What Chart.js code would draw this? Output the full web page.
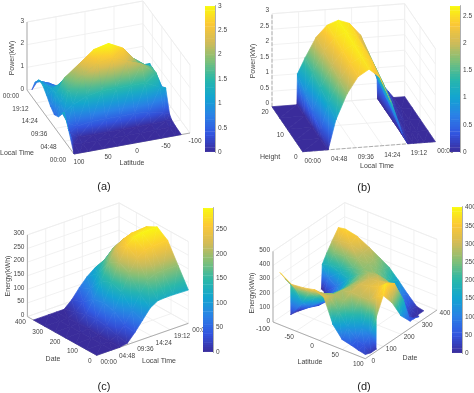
<!DOCTYPE html>
<html lang="en">
<head>
<meta charset="UTF-8">
<title>Power and energy surfaces</title>
<script src="https://cdn.jsdelivr.net/npm/chart.js"></script>
<style>
  body { margin: 0; background: #fff; }
  canvas { position: absolute; }
</style>
</head>
<body>
<canvas id="panelA" width="237" height="196" style="left:0;top:0"></canvas>
<canvas id="panelB" width="237" height="196" style="left:237px;top:0"></canvas>
<canvas id="panelC" width="237" height="197" style="left:0;top:196px"></canvas>
<canvas id="panelD" width="237" height="197" style="left:237px;top:196px"></canvas>
<canvas id="barA" width="34" height="160" style="left:205px;top:-1px"></canvas>
<canvas id="barB" width="34" height="160" style="left:450px;top:-1px"></canvas>
<canvas id="barC" width="34" height="158" style="left:203px;top:201px"></canvas>
<canvas id="barD" width="34" height="160" style="left:452px;top:200px"></canvas>

<script>
    const timeTicks = ['00:00', '04:48', '09:36', '14:24', '19:12', '00:00'];
    const timeTickHours = [0, 4.8, 9.6, 14.4, 19.2, 24];

    // (a) power vs latitude and local time
    const latA = [100, 90, 75, 50, 25, 0, -25, -50, -75, -85];
    const hoursA = [0, 3, 5, 6, 8, 10, 12, 14, 16, 18, 20, 21.5];
    const powerA = [
        [0, .8, 1.25, 1.1, .7, .55, .7, .95, 1.15, 1.15, .8, .3],
        [0, .05, .3, .6, .85, 1, 1.2, 1.15, 1.05, .95, .8, .65],
        [0, 0, .04, .4, 1.1, 1.65, 1.85, 1.4, 1, .75, .65, .5],
        [0, 0, .03, .5, 1.4, 2.1, 2.35, 1.85, 1.3, .7, .3, .1],
        [0, 0, .02, .5, 1.5, 2.5, 2.85, 2.25, 1.5, .6, .1, 0],
        [0, 0, .02, .5, 1.5, 2.6, 3, 2.5, 1.7, .7, .1, 0],
        [0, 0, .02, .5, 1.5, 2.35, 2.68, 2.3, 1.6, .7, .1, 0],
        [0, 0, .03, .45, 1.5, 2.1, 1.93, 1.87, 1.4, .8, .3, .1],
        [0, .02, .05, .3, 1.2, 1.6, 1.6, 1.4, 1.25, 1.1, .9, .7],
        [0, .02, .08, .2, 1.12, .95, .72, 1.15, 1.25, .9, .7, .4]
    ];

    // (b) power vs height and local time
    const heightB = [0, 5, 10, 15, 20];
    const hoursB = [0, 4.5, 4.6, 6, 8, 10, 12, 14, 16, 18, 19, 19.1, 19.2, 20, 21, 22, 24];
    const powerB = [
        [0, 0, 0, .95, 1.75, 2.28, 2.5, 2.2, 1.4, .35, 0, 0, 0, 0, 0, 0, 0],
        [0, 0, .25, 1.1, 1.85, 2.35, 2.55, 2.35, 1.6, .55, .16, 0, .14, 0, 0, 0, 0],
        [0, 0, .5, 1.25, 1.95, 2.4, 2.58, 2.4, 1.75, .72, .32, 0, .3, .08, 0, 0, 0],
        [0, 0, .75, 1.4, 2.05, 2.45, 2.6, 2.45, 1.92, .9, .48, 0, .46, .25, .08, 0, 0],
        [0, 0, 1, 1.5, 2.14, 2.5, 2.63, 2.5, 2.1, 1.1, .65, 0, .63, .45, .22, 0, 0]
    ];

    // (c) energy vs date and local time
    const dateC = [0, 60, 120, 180, 240, 300, 365];
    const hoursC = [0, 4, 6, 8, 10, 12, 14, 16, 18, 20, 24];
    const energyC = [
        [0, 0, 0, 5, 35, 70, 105, 122, 124, 124, 122],
        [0, 0, 0, 12, 40, 85, 135, 175, 190, 192, 192],
        [0, 0, 2, 25, 70, 130, 190, 235, 255, 260, 262],
        [0, 0, 5, 30, 80, 145, 210, 260, 282, 288, 290],
        [0, 0, 3, 25, 72, 130, 185, 230, 255, 265, 270],
        [0, 0, 0, 12, 40, 80, 125, 170, 200, 215, 225],
        [0, 0, 0, 0, 25, 60, 90, 112, 122, 135, 170]
    ];

    // (d) energy vs latitude and date, null where the picture has no surface
    const latD = [100, 85, 70, 50, 30, 10, -10, -33, -60, -85, -100];
    const dateD = [0, 30, 60, 61, 100, 150, 200, 250, 270, 275, 300, 330, 365];
    const energyD = [
        [30, 15, 15, 240, 360, 265, 130, 50, 50, 50, 40, null, null],
        [40, 50, 90, 90, 330, 380, 340, 180, 50, 30, 10, 5, 5],
        [55, 70, 130, 130, 290, 340, 325, 240, 130, 100, 50, 25, 15],
        [70, 130, 200, 200, 290, 320, 315, 270, 210, 190, 130, 100, 78],
        [150, 220, 265, 265, 295, 305, 300, 285, 250, 240, 215, 180, 150],
        [320, 300, 285, 285, 280, 270, 270, 275, 265, 262, 250, 235, 215],
        [345, 300, 265, 265, 230, 215, 220, 240, 255, 258, 270, 272, 255],
        [328, 270, 215, 215, 150, 120, 130, 180, 220, 235, 275, 290, 300],
        [318, 250, 137, 137, 70, 40, 40, 90, 170, 195, 260, 320, 345],
        [370, 300, 233, 20, 10, 5, 5, 15, 100, 190, 250, 310, 363],
        [null, null, null, null, null, null, null, null, 0, 172, 230, 290, 354]
    ];

    // colorbar ticks
    const barTicksA = [0, .5, 1, 1.5, 2, 2.5, 3];
    const barTicksB = [0, .5, 1, 1.5, 2, 2.5];
    const barTicksC = [0, 50, 100, 150, 200, 250];
    const barTicksD = [0, 50, 100, 150, 200, 250, 300, 350, 400];

    const parula = ['#3a2c9b', '#3255e0', '#2a82e6', '#12a5d0', '#2bb8a8', '#80bf78', '#d2bb58', '#fcc835', '#f9fb0e'];
    const font = '"Liberation Sans", Arial, sans-serif';
    const textColor = '#444';
    const gap = { x: NaN, y: NaN };

    function hexRgb(h) {
        return [1, 3, 5].map(i => parseInt(h.substr(i, 2), 16));
    }

    function parulaColor(f) {
        f = Math.max(0, Math.min(1, f)) * (parula.length - 1);
        const i = Math.min(Math.floor(f), parula.length - 2);
        const c0 = hexRgb(parula[i]), c1 = hexRgb(parula[i + 1]);
        const c = c0.map((v, k) => Math.round(v + (c1[k] - v) * (f - i)));
        return 'rgb(' + c.join(',') + ')';
    }

    function surfacePlugin(p) {
        return {
            id: 'surface',
            afterDatasetsDraw(chart) {
                const ctx = chart.ctx;
                const pts = chart.getDatasetMeta(chart.data.datasets.length - 1).data;
                const nr = p.rows.length, nc = p.cols.length;
                const at = (r, c) => ({ x: pts[r * nc + c].x, y: pts[r * nc + c].y, z: p.values[r][c] });
                const cells = [];
                for (let r = 0; r < nr - 1; r++) {
                    for (let c = 0; c < nc - 1; c++) {
                        const depth = project(p, (p.rows[r] + p.rows[r + 1]) / 2, (p.cols[c] + p.cols[c + 1]) / 2, p.zRange[0]).y;
                        cells.push({ r, c, depth });
                    }
                }
                cells.sort((a, b) => a.depth - b.depth);
                ctx.save();
                cells.forEach(({ r, c }) => {
                    const a = at(r, c), b = at(r, c + 1), d = at(r + 1, c), e = at(r + 1, c + 1);
                    triangle(ctx, p, a, b, e);
                    triangle(ctx, p, a, e, d);
                });
                ctx.restore();

                // tick labels and titles
                ctx.save();
                ctx.fillStyle = textColor;
                ctx.textBaseline = 'middle';
                ctx.font = '6.5px ' + font;
                ctx.textAlign = 'center';
                const sx = chart.scales.x, sy = chart.scales.y;
                p.rowTicks.forEach((v, i) => {
                    const q = project(p, v, p.rowFloorAt, p.zRange[0]);
                    ctx.fillText(p.rowLabels[i], sx.getPixelForValue(q.x) + p.rowOffset[0], sy.getPixelForValue(q.y) + p.rowOffset[1]);
                });
                p.colTicks.forEach((v, i) => {
                    const q = project(p, p.colFloorAt, v, p.zRange[0]);
                    ctx.fillText(p.colLabels[i], sx.getPixelForValue(q.x) + p.colOffset[0], sy.getPixelForValue(q.y) + p.colOffset[1]);
                });
                ctx.textAlign = 'right';
                p.zTicks.forEach(v => {
                    const f = (v - p.zRange[0]) / (p.zRange[1] - p.zRange[0]);
                    ctx.fillText(String(v), sx.getPixelForValue(p.zAxisX) - 3, sy.getPixelForValue(p.zAxisY + f * p.up) + p.zLabelDy);
                });
                ctx.textAlign = 'center';
                ctx.font = '7px ' + font;
                p.titles.forEach(t => {
                    ctx.save();
                    ctx.translate(t[1], t[2]);
                    if (t[3]) ctx.rotate(-Math.PI / 2);
                    ctx.fillText(t[0], 0, 0);
                    ctx.restore();
                });
                ctx.font = '11px ' + font;
                ctx.fillStyle = '#222';
                ctx.fillText(p.caption[0], p.caption[1], p.caption[2]);
                ctx.restore();
            }
        };
    }

    // gouraud style fill of one triangle, colour follows z
    function triangle(ctx, p, a, b, c) {
        if (a.z === null || b.z === null || c.z === null) return;
        const dx1 = b.x - a.x, dy1 = b.y - a.y, dx2 = c.x - a.x, dy2 = c.y - a.y;
        const dz1 = b.z - a.z, dz2 = c.z - a.z;
        const det = dx1 * dy2 - dx2 * dy1;
        const lo = Math.min(a.z, b.z, c.z), hi = Math.max(a.z, b.z, c.z);
        let fill = parulaColor((a.z + b.z + c.z) / 3 / p.colorMax);
        if (Math.abs(det) > 0.01 && (hi - lo) / p.colorMax > 0.03) {
            const gx = (dz1 * dy2 - dz2 * dy1) / det, gy = (dz2 * dx1 - dz1 * dx2) / det;
            const g2 = gx * gx + gy * gy;
            const grad = ctx.createLinearGradient(
                a.x + gx * (lo - a.z) / g2, a.y + gy * (lo - a.z) / g2,
                a.x + gx * (hi - a.z) / g2, a.y + gy * (hi - a.z) / g2);
            const n = Math.ceil((hi - lo) / p.colorMax * 8) + 1;
            for (let i = 0; i <= n; i++) grad.addColorStop(i / n, parulaColor((lo + (hi - lo) * i / n) / p.colorMax));
            fill = grad;
        }
        ctx.beginPath();
        ctx.moveTo(a.x, a.y);
        ctx.lineTo(b.x, b.y);
        ctx.lineTo(c.x, c.y);
        ctx.closePath();
        ctx.fillStyle = fill;
        ctx.strokeStyle = fill;
        ctx.lineWidth = 0.7;
        ctx.fill();
        ctx.stroke();
    }

    // parallel projection of row value, column value and z into the panel plane
    function project(p, rv, cv, z) {
        const fr = (rv - p.rowRange[0]) / (p.rowRange[1] - p.rowRange[0]);
        const fc = (cv - p.colRange[0]) / (p.colRange[1] - p.colRange[0]);
        const fz = (z - p.zRange[0]) / (p.zRange[1] - p.zRange[0]);
        return {
            x: p.origin[0] + fr * p.rowVec[0] + fc * p.colVec[0],
            y: p.origin[1] + fr * p.rowVec[1] + fc * p.colVec[1] + fz * p.up
        };
    }

    function boxLines(p) {
        const [r0, r1] = p.rowRange, [c0, c1] = p.colRange, [z0, z1] = p.zRange;
        const grid = [], axes = [];
        // the two back walls sit on the far row edge and the far column edge
        p.zTicks.forEach(v => {
            grid.push(project(p, r1, c0, v), project(p, r1, c1, v), project(p, r0, c1, v), gap);
        });
        p.rowTicks.forEach(v => {
            grid.push(project(p, v, c0, z0), project(p, v, c1, z0), project(p, v, c1, z1), gap);
        });
        p.colTicks.forEach(v => {
            grid.push(project(p, r0, v, z0), project(p, r1, v, z0), project(p, r1, v, z1), gap);
        });
        grid.push(project(p, r1, c0, z1), project(p, r1, c1, z1), project(p, r0, c1, z1), gap);
        axes.push(project(p, r1, c0, z0), project(p, r0, c0, z0), project(p, r0, c1, z0), gap);
        const left = project(p, r1, c0, z0).x < project(p, r0, c1, z0).x ? [r1, c0] : [r0, c1];
        axes.push(project(p, left[0], left[1], z0), project(p, left[0], left[1], z1));
        return { grid, axes };
    }

    function drawPanel(id, p) {
        const canvas = document.getElementById(id);
        const lines = boxLines(p);
        const vertices = [];
        p.rows.forEach((rv, r) => p.cols.forEach((cv, c) => {
            const z = p.values[r][c];
            vertices.push(project(p, rv, cv, z === null ? p.zRange[0] : z));
        }));
        new Chart(canvas, {
            type: 'scatter',
            data: {
                datasets: [
                    { data: lines.axes, showLine: true, borderColor: '#9a9a9a', borderWidth: 0.8, pointRadius: 0, borderDash: p.axisDash || [] },
                    { data: lines.grid, showLine: true, borderColor: '#eeeeee', borderWidth: 0.8, pointRadius: 0 },
                    { data: vertices, pointRadius: 0, showLine: false }
                ]
            },
            options: {
                responsive: false,
                animation: false,
                layout: { padding: 0 },
                plugins: { legend: { display: false }, tooltip: { enabled: false } },
                scales: {
                    x: { type: 'linear', display: false, min: 0, max: canvas.width },
                    y: { type: 'linear', display: false, min: 0, max: canvas.height, reverse: true }
                }
            },
            plugins: [surfacePlugin(p)]
        });
    }

    function drawColorbar(id, top, ticks) {
        const datasets = [];
        const n = 64;
        for (let i = 0; i < n; i++) {
            const col = parulaColor((i + 0.5) / n);
            datasets.push({
                data: [[top * i / n, top * (i + 1) / n]],
                backgroundColor: col,
                borderColor: col,
                borderWidth: 0.6,
                borderSkipped: false,
                grouped: false,
                barPercentage: 1,
                categoryPercentage: 1
            });
        }
        new Chart(document.getElementById(id), {
            type: 'bar',
            data: { labels: [''], datasets },
            options: {
                responsive: false,
                animation: false,
                layout: { padding: { top: 4, bottom: 4 } },
                plugins: { legend: { display: false }, tooltip: { enabled: false } },
                scales: {
                    x: { display: false },
                    y: {
                        position: 'right',
                        min: 0,
                        max: top,
                        afterBuildTicks: s => { s.ticks = ticks.map(v => ({ value: v })); },
                        afterFit: s => { s.width = 24; },
                        grid: { display: false, drawTicks: false },
                        border: { color: '#777', width: 0.6 },
                        ticks: { color: textColor, font: { size: 6.5, family: font }, padding: 3, callback: v => String(v) }
                    }
                }
            }
        });
    }

    drawPanel('panelA', {
        rows: latA, cols: hoursA, values: powerA, colorMax: 3,
        origin: [74, 154], rowVec: [116, -21], colVec: [-47, -64], up: -68,
        rowRange: [100, -100], colRange: [0, 24], zRange: [0, 3],
        rowTicks: [100, 50, 0, -50, -100], rowLabels: ['100', '50', '0', '-50', '-100'], rowOffset: [5, 8], rowFloorAt: 0,
        colTicks: timeTickHours, colLabels: timeTicks, colOffset: [-16, 6], colFloorAt: 100,
        zTicks: [0, 1, 2, 3], zAxisX: 27, zAxisY: 90, zLabelDy: -1,
        titles: [['Power(kW)', 12, 58, true], ['Local Time', 17, 153], ['Latitude', 132, 163]],
        caption: ['(a)', 104, 187]
    });
    drawPanel('panelB', {
        rows: heightB, cols: hoursB, values: powerB, colorMax: 2.68,
        origin: [65.7, 151.7], rowVec: [-30.7, -45], colVec: [132.7, -10], up: -93,
        rowRange: [0, 20], colRange: [0, 24], zRange: [0, 3],
        rowTicks: [0, 10, 20], rowLabels: ['0', '10', '20'], rowOffset: [-7, 6], rowFloorAt: 0,
        colTicks: timeTickHours, colLabels: timeTicks, colOffset: [10, 10], colFloorAt: 0,
        zTicks: [0, .5, 1, 1.5, 2, 2.5, 3], zAxisX: 35, zAxisY: 106.7, zLabelDy: -3,
        titles: [['Power(kW)', 16.5, 61, true], ['Height', 33, 157], ['Local Time', 140, 166]],
        caption: ['(b)', 127, 188], axisDash: [4, 1.5]
    });
    drawPanel('panelC', {
        rows: dateC, cols: hoursC, values: energyC, colorMax: 294,
        origin: [96.7, 159.3], rowVec: [-69.3, -38.7], colVec: [91.7, -32], up: -81.7,
        rowRange: [0, 400], colRange: [0, 24], zRange: [0, 300],
        rowTicks: [0, 100, 200, 300, 400], rowLabels: ['0', '100', '200', '300', '400'], rowOffset: [-7, 6], rowFloorAt: 0,
        colTicks: timeTickHours, colLabels: timeTicks, colOffset: [12, 7], colFloorAt: 0,
        zTicks: [0, 50, 100, 150, 200, 250, 300], zAxisX: 27.4, zAxisY: 120.6, zLabelDy: -1.5,
        titles: [['Energy(kWh)', 8, 80, true], ['Date', 53, 163], ['Local Time', 159, 165]],
        caption: ['(c)', 104, 191]
    });
    drawPanel('panelD', {
        rows: latD, cols: dateD, values: energyD, colorMax: 402,
        origin: [128.3, 162.7], rowVec: [-92.3, -36.7], colVec: [71.7, -48.7], up: -70.7,
        rowRange: [100, -100], colRange: [0, 400], zRange: [0, 500],
        rowTicks: [100, 50, 0, -50], rowLabels: ['100', '50', '0', '-50'], rowOffset: [-7, 6], rowFloorAt: 0,
        colTicks: [0, 100, 200, 300, 400], colLabels: ['0', '100', '200', '300', '400'], colOffset: [8, 3], colFloorAt: 100,
        zTicks: [0, 100, 200, 300, 400, 500], zAxisX: 36, zAxisY: 126, zLabelDy: -1,
        titles: [['Energy(kWh)', 15, 97, true], ['Latitude', 73, 166], ['Date', 173, 162], ['-100', 26, 133]],
        caption: ['(d)', 127, 191]
    });

    drawColorbar('barA', 3, barTicksA);
    drawColorbar('barB', 2.68, barTicksB);
    drawColorbar('barC', 294, barTicksC);
    drawColorbar('barD', 402, barTicksD);
</script>
</body>
</html>
